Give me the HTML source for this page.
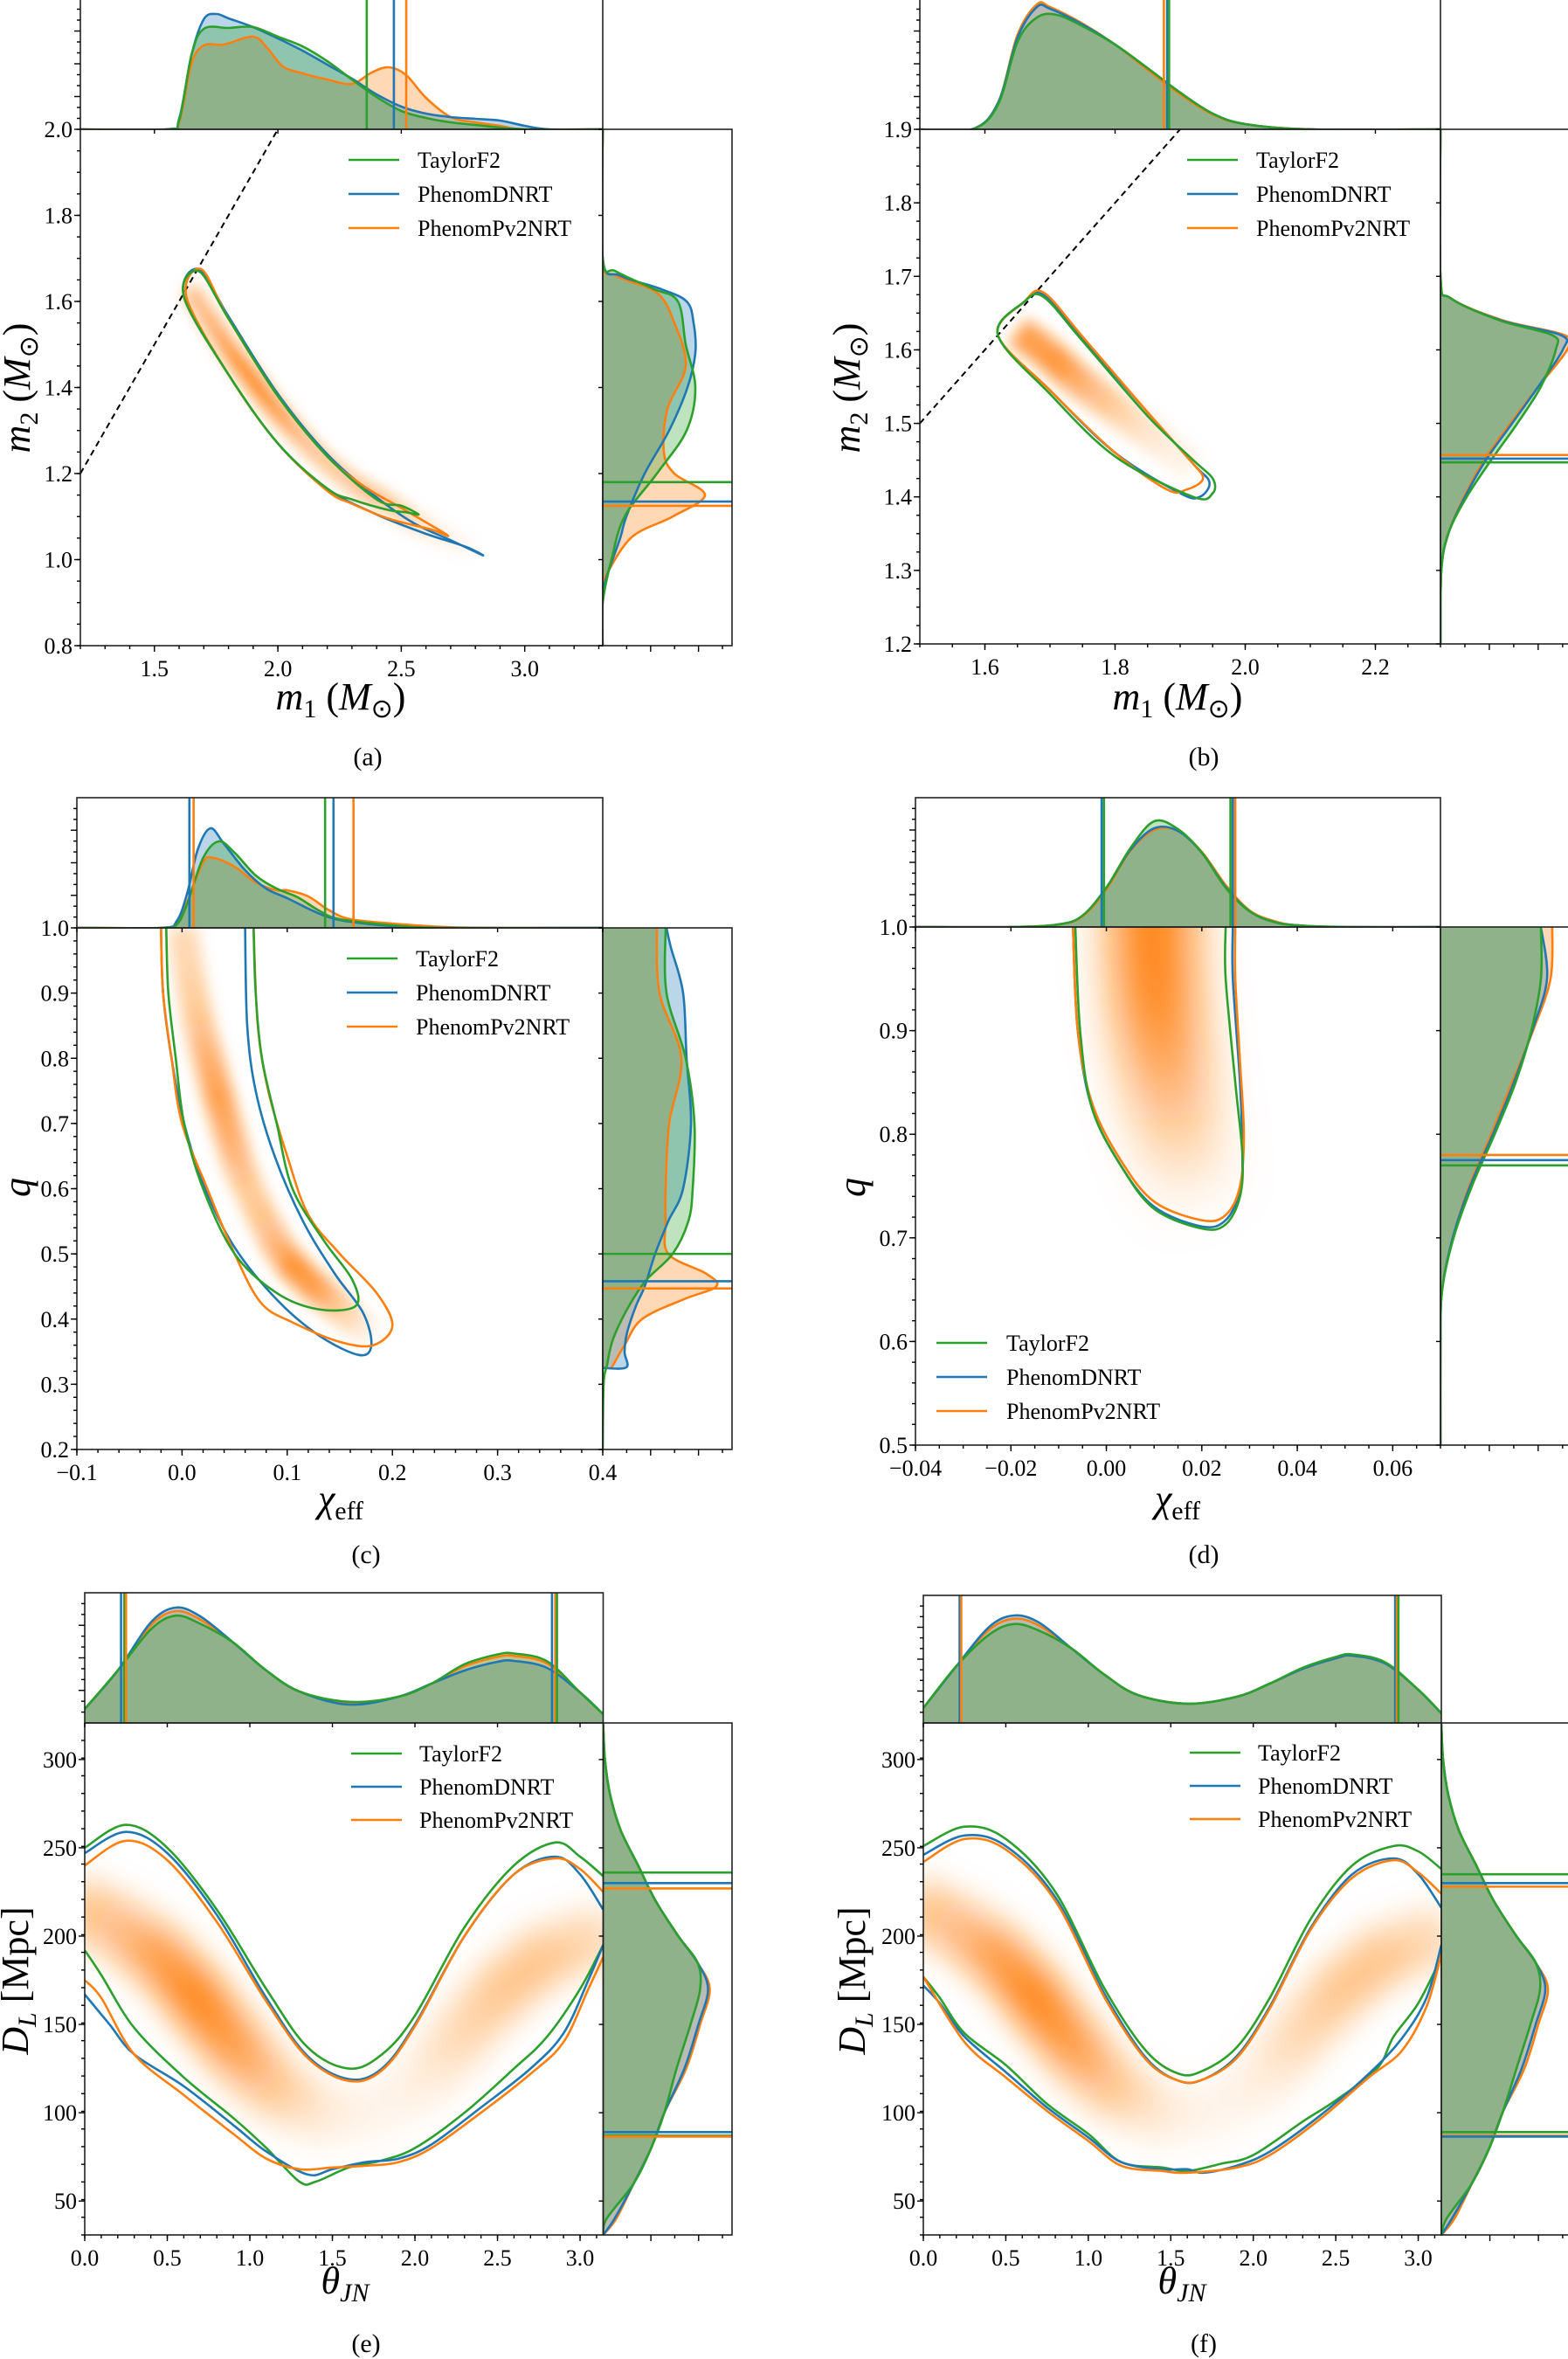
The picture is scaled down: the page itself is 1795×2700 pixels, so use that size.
<!DOCTYPE html>
<html><head><meta charset="utf-8">
<style>
html,body{margin:0;padding:0;background:#fff;}
svg{display:block;}
text{font-family:"Liberation Serif",serif;fill:#000;}
</style></head>
<body>
<svg id="s" xmlns="http://www.w3.org/2000/svg" width="1795" height="2700" viewBox="0 0 1795 2700">
<defs>
<filter id="bl1" filterUnits="userSpaceOnUse" x="0" y="0" width="1795" height="2700"><feGaussianBlur stdDeviation="8"/></filter>
<filter id="bl2" filterUnits="userSpaceOnUse" x="0" y="0" width="1795" height="2700"><feGaussianBlur stdDeviation="18"/></filter>
<filter id="bl3" filterUnits="userSpaceOnUse" x="0" y="0" width="1795" height="2700"><feGaussianBlur stdDeviation="28"/></filter>
</defs>
<g id="root"></g>
<text x="421" y="876" font-size="30" text-anchor="middle">(a)</text>
<text x="1378" y="876" font-size="30" text-anchor="middle">(b)</text>
<text x="419" y="1789" font-size="30" text-anchor="middle">(c)</text>
<text x="1378" y="1789" font-size="30" text-anchor="middle">(d)</text>
<text x="419" y="2692" font-size="30" text-anchor="middle">(e)</text>
<text x="1378" y="2692" font-size="30" text-anchor="middle">(f)</text>
</svg>
<script>
var NS="http://www.w3.org/2000/svg";
var root=document.getElementById('root');
var G='#2ca02c',B='#1f77b4',O='#ff7f0e';
var cid=0;
function el(tag,attrs,parent,txt){var e=document.createElementNS(NS,tag);for(var k in attrs)e.setAttribute(k,attrs[k]);if(txt!==undefined)e.textContent=txt;(parent||root).appendChild(e);return e;}
function smooth(p,closed){
  var n=p.length;if(n<2)return '';
  var d='M'+p[0][0].toFixed(1)+','+p[0][1].toFixed(1);
  var m=closed?n:n-1;
  for(var i=0;i<m;i++){
    var p0,p1=p[i],p2,p3;
    if(closed){p0=p[(i-1+n)%n];p2=p[(i+1)%n];p3=p[(i+2)%n];}
    else{p0=p[i-1]||p[i];p2=p[i+1];p3=p[i+2]||p[i+1];}
    var c1=[p1[0]+(p2[0]-p0[0])/6,p1[1]+(p2[1]-p0[1])/6];
    var c2=[p2[0]-(p3[0]-p1[0])/6,p2[1]-(p3[1]-p1[1])/6];
    d+='C'+c1[0].toFixed(1)+','+c1[1].toFixed(1)+' '+c2[0].toFixed(1)+','+c2[1].toFixed(1)+' '+p2[0].toFixed(1)+','+p2[1].toFixed(1);
  }
  if(closed)d+='Z';
  return d;
}
function fmt(v,dec){var s=Math.abs(v).toFixed(dec);if(v<-1e-9)s='\u2212'+s;return s;}
function clip(x,y,w,h){cid++;var c=el('clipPath',{id:'c'+cid},document.querySelector('defs'));el('rect',{x:x,y:y,width:w,height:h},c);return 'url(#c'+cid+')';}

function panel(P){
  var X=function(x){return P.L+(x-P.xr[0])/(P.xr[1]-P.xr[0])*(P.R-P.L);};
  var Y=function(y){return P.B-(y-P.yr[0])/(P.yr[1]-P.yr[0])*(P.B-P.T);};
  var gm=el('g',{'clip-path':clip(P.L,P.T,P.R-P.L,P.B-P.T)});
  var gh=el('g',{filter:'url(#'+P.blur+')'},gm);
  var s=P.strokes;
  for(var i=0;i<s.pts.length-1;i++){
    var a=s.pts[i],b=s.pts[i+1];
    var o0=s.ops[Math.max(0,i-1)],o1=s.ops[i],o2=s.ops[Math.min(s.ops.length-1,i+1)];
    var N=6;
    for(var j=0;j<N;j++){
      var t0=j/N,t1=(j+1)/N;
      var tm=(t0+t1)/2;
      var op=tm<0.5?(o0+(o1-o0)*(0.5+tm)):(o1+(o2-o1)*(tm-0.5));
      el('line',{x1:X(a[0]+(b[0]-a[0])*t0),y1:Y(a[1]+(b[1]-a[1])*t0),x2:X(a[0]+(b[0]-a[0])*t1),y2:Y(a[1]+(b[1]-a[1])*t1),stroke:O,'stroke-width':s.w,'stroke-linecap':'butt','stroke-opacity':op},gh);
    }
  }
  if(P.dash)el('line',{x1:X(P.dash[0]),y1:Y(P.dash[1]),x2:X(P.dash[2]),y2:Y(P.dash[3]),stroke:'#000','stroke-width':2,'stroke-dasharray':'7,5'},gm);
  P.contours.forEach(function(c){
    var pts=c.p.map(function(q){return [X(q[0]),Y(q[1])];});
    el('path',{d:smooth(pts,c.closed),fill:'none',stroke:c.c,'stroke-width':2.6},gm);
  });
  var gt=el('g',{'clip-path':clip(P.L,P.TM,P.R-P.L,P.T-P.TM)});
  [['o',O],['b',B],['g',G]].forEach(function(k){
    var arr=P.top[k[0]];if(!arr)return;
    var pts=arr.map(function(q){return [X(q[0]),P.T-q[1]];});
    var d=smooth(pts,false);
    el('path',{d:d+'L'+pts[pts.length-1][0]+','+P.T+'L'+pts[0][0]+','+P.T+'Z',fill:k[1],'fill-opacity':0.3,stroke:'none'},gt);
  });
  [['o',O],['b',B],['g',G]].forEach(function(k){
    var arr=P.top[k[0]];if(!arr)return;
    var pts=arr.map(function(q){return [X(q[0]),P.T-q[1]];});
    el('path',{d:smooth(pts,false),fill:'none',stroke:k[1],'stroke-width':2.6},gt);
  });
  P.vl.forEach(function(v){el('line',{x1:X(v[0]),x2:X(v[0]),y1:P.TM,y2:P.T,stroke:v[1],'stroke-width':2.6},gt);});
  var gr=el('g',{'clip-path':clip(P.R,P.T,P.RM-P.R,P.B-P.T)});
  [['o',O],['b',B],['g',G]].forEach(function(k){
    var arr=P.right[k[0]];if(!arr)return;
    var pts=arr.map(function(q){return [P.R+q[1],Y(q[0])];});
    var d=smooth(pts,false);
    el('path',{d:d+'L'+P.R+','+pts[pts.length-1][1]+'L'+P.R+','+pts[0][1]+'Z',fill:k[1],'fill-opacity':0.3,stroke:'none'},gr);
  });
  [['o',O],['b',B],['g',G]].forEach(function(k){
    var arr=P.right[k[0]];if(!arr)return;
    var pts=arr.map(function(q){return [P.R+q[1],Y(q[0])];});
    el('path',{d:smooth(pts,false),fill:'none',stroke:k[1],'stroke-width':2.6},gr);
  });
  P.hl.forEach(function(v){el('line',{x1:P.R,x2:P.RM,y1:Y(v[0]),y2:Y(v[0]),stroke:v[1],'stroke-width':2.6},gr);});
  el('rect',{x:P.L,y:P.T,width:P.R-P.L,height:P.B-P.T,fill:'none',stroke:'#222','stroke-width':1.6});
  el('rect',{x:P.L,y:P.TM,width:P.R-P.L,height:P.T-P.TM,fill:'none',stroke:'#222','stroke-width':1.6});
  el('rect',{x:P.R,y:P.T,width:P.RM-P.R,height:P.B-P.T,fill:'none',stroke:'#222','stroke-width':1.6});
  var tk=el('g',{stroke:'#000','stroke-width':1.4});
  var xm=P.xt;
  for(var v=xm[0];v<=xm[1]+1e-9;v+=xm[2]){var px=X(v);if(px<P.L-0.5||px>P.R+0.5)continue;el('line',{x1:px,x2:px,y1:P.B,y2:P.B+7},tk);el('line',{x1:px,x2:px,y1:P.T,y2:P.T+5},tk);
    el('text',{x:px,y:P.B+35,'font-size':26,'text-anchor':'middle',stroke:'none'},root,fmt(v,xm[3]));}
  for(var v=P.xr[0];v<=P.xr[1]+1e-9;v+=xm[4]){var px=X(v);el('line',{x1:px,x2:px,y1:P.B,y2:P.B+4},tk);}
  var ym=P.yt;
  for(var v=ym[0];v<=ym[1]+1e-9;v+=ym[2]){var py=Y(v);el('line',{x1:P.L-7,x2:P.L,y1:py,y2:py},tk);el('line',{x1:P.R-5,x2:P.R,y1:py,y2:py},tk);
    el('text',{x:P.L-9,y:py+9,'font-size':26,'text-anchor':'end',stroke:'none'},root,fmt(v,ym[3]));}
  for(var v=P.yr[0];v<=P.yr[1]+1e-9;v+=ym[4]){var py=Y(v);el('line',{x1:P.L-4,x2:P.L,y1:py,y2:py},tk);}
  for(var i=1;i<12;i++){var py=P.T-(P.T-P.TM)*i/12;el('line',{x1:P.L-(i%3==0?7:4),x2:P.L,y1:py,y2:py},tk);}
  for(var i=1;i<6;i++){var px=P.R+(P.RM-P.R)*i/5.4;el('line',{x1:px,x2:px,y1:P.B,y2:P.B+(i%2==0?7:4)},tk);}
  var lg=P.leg;var names=['TaylorF2','PhenomDNRT','PhenomPv2NRT'],cols=[G,B,O];
  for(var i=0;i<3;i++){var y=lg[2]+i*lg[3];el('line',{x1:lg[0],x2:lg[0]+58,y1:y,y2:y,stroke:cols[i],'stroke-width':2.6});
    el('text',{x:lg[1],y:y+9,'font-size':26},root,names[i]);}
  P.labels();
}
function lbl(x,y,parts,rot){
  var t=el('text',{x:x,y:y,'font-size':44,'text-anchor':'middle',transform:rot?('rotate(-90 '+x+' '+y+')'):''});
  parts.forEach(function(p){var a={};if(p[1]&&p[1].indexOf('i')>=0)a['font-style']='italic';if(p[1]&&p[1].indexOf('s')>=0){a['font-size']=30;a['dy']=9;}if(p[1]&&p[1].indexOf('u')>=0){a['dy']=-9;}el('tspan',a,t,p[0]);});
}
var m1=[['m','i'],['1','s'],[' (','u'],['M','i'],['\u2299','s'],[')','u']];
var m2=[['m','i'],['2','s'],[' (','u'],['M','i'],['\u2299','s'],[')','u']];
var chi=[['\u03c7','i'],['eff','s']];
var th=[['\u03b8','i'],['JN','is']];
var dl=[['D','i'],['L','is'],[' [Mpc]','u']];

panel({L:92,R:690,TM:-2,T:148,B:739,RM:838,xr:[1.2,3.316],yr:[0.8,2.0],blur:'bl1',
 xt:[1.5,3.0,0.5,1,0.1],yt:[0.8,2.0,0.2,1,0.05],
 strokes:{w:20,pts:[[1.64,1.63],[1.72,1.56],[1.8,1.49],[1.88,1.43],[1.96,1.37],[2.05,1.31],[2.15,1.25],[2.25,1.2],[2.35,1.16],[2.45,1.13],[2.55,1.09],[2.65,1.06],[2.78,1.025]],ops:[.55,.7,.9,.95,.8,.55,.45,.5,.55,.4,.2,.08]},
 dash:[1.2,1.2,2.0,2.0],
 contours:[
  {c:B,closed:true,p:[[1.62,1.61],[1.68,1.675],[1.8,1.565],[2.0,1.385],[2.2,1.245],[2.4,1.145],[2.55,1.085],[2.7,1.045],[2.83,1.01],[2.76,1.03],[2.6,1.06],[2.4,1.105],[2.2,1.165],[2.0,1.27],[1.8,1.43]]},
  {c:O,closed:true,p:[[1.63,1.61],[1.69,1.675],[1.8,1.56],[2.0,1.38],[2.2,1.24],[2.35,1.17],[2.5,1.12],[2.62,1.08],[2.69,1.055],[2.62,1.07],[2.45,1.095],[2.3,1.13],[2.2,1.16],[2.0,1.27],[1.8,1.43]]},
  {c:G,closed:true,p:[[1.62,1.61],[1.68,1.67],[1.8,1.56],[2.0,1.38],[2.2,1.24],[2.4,1.14],[2.5,1.125],[2.57,1.105],[2.52,1.11],[2.45,1.115],[2.3,1.14],[2.2,1.165],[2.0,1.27],[1.8,1.43]]}
 ],
 top:{b:[[1.2,0],[1.55,0],[1.6,12],[1.65,85],[1.7,126],[1.75,132],[1.8,127],[1.9,117],[2.0,104],[2.1,90],[2.2,74],[2.3,58],[2.4,40],[2.5,26],[2.6,18],[2.7,14],[2.8,12],[2.9,10],[3.0,4],[3.1,0],[3.32,0]],
      g:[[1.2,0],[1.55,0],[1.6,10],[1.65,85],[1.7,115],[1.8,116],[1.9,117],[2.0,106],[2.1,95],[2.2,78],[2.3,57],[2.4,37],[2.5,21],[2.6,13],[2.7,8],[2.8,5],[3.0,0],[3.32,0]],
      o:[[1.2,0],[1.55,0],[1.6,8],[1.65,75],[1.7,96],[1.78,97],[1.9,106],[1.96,92],[2.02,72],[2.1,64],[2.2,57],[2.3,52],[2.38,65],[2.45,71],[2.52,62],[2.6,36],[2.7,14],[2.8,8],[2.9,4],[3.0,0],[3.32,0]]},
 vl:[[2.36,G],[2.47,B],[2.52,O]],
 right:{b:[[0.93,0],[0.97,6],[1.05,20],[1.1,27],[1.2,48],[1.3,76],[1.4,97],[1.48,106],[1.55,104],[1.6,96],[1.63,65],[1.66,20],[1.7,0],[2.0,0]],
        g:[[0.8,0],[0.9,0],[1.0,10],[1.1,25],[1.2,62],[1.3,96],[1.4,106],[1.5,95],[1.6,86],[1.63,57],[1.67,15],[1.7,0],[2.0,0]],
        o:[[0.95,0],[1.05,32],[1.1,80],[1.15,117],[1.2,82],[1.25,70],[1.35,74],[1.45,95],[1.55,82],[1.62,62],[1.66,15],[1.7,0],[2.0,0]]},
 hl:[[1.18,G],[1.135,B],[1.125,O]],
 leg:[399,478,183,39],
 labels:function(){lbl(390,812,m1);lbl(34,444,m2,true);}
});
panel({L:1053,R:1649,TM:-2,T:148,B:737,RM:1800,xr:[1.5,2.3],yr:[1.2,1.9],blur:'bl1',
 xt:[1.6,2.2,0.2,1,0.05],yt:[1.2,1.9,0.1,1,0.025],
 strokes:{w:36,pts:[[1.65,1.625],[1.69,1.6],[1.74,1.56],[1.8,1.52],[1.86,1.48],[1.92,1.44]],ops:[.75,.8,.5,.25,.1]},
 dash:[1.5,1.5,1.9,1.9],
 contours:[
  {c:B,closed:true,p:[[1.62,1.62],[1.66,1.665],[1.69,1.675],[1.75,1.615],[1.85,1.515],[1.92,1.445],[1.945,1.42],[1.93,1.40],[1.9,1.405],[1.8,1.46],[1.7,1.545]]},
  {c:O,closed:true,p:[[1.62,1.62],[1.66,1.665],[1.69,1.678],[1.75,1.618],[1.85,1.515],[1.915,1.45],[1.935,1.425],[1.91,1.41],[1.88,1.41],[1.8,1.46],[1.7,1.545]]},
  {c:G,closed:true,p:[[1.62,1.62],[1.66,1.665],[1.69,1.672],[1.75,1.612],[1.85,1.51],[1.92,1.45],[1.95,1.425],[1.95,1.405],[1.92,1.40],[1.8,1.455],[1.7,1.54]]}
 ],
 top:{b:[[1.5,0],[1.58,0],[1.62,30],[1.65,105],[1.68,140],[1.7,138],[1.75,120],[1.8,97],[1.85,70],[1.9,42],[1.95,18],[2.0,6],[2.1,0],[2.3,0]],
      g:[[1.5,0],[1.58,0],[1.62,28],[1.65,100],[1.68,128],[1.71,131],[1.75,118],[1.8,97],[1.85,70],[1.9,42],[1.95,18],[2.0,6],[2.1,0],[2.3,0]],
      o:[[1.5,0],[1.58,0],[1.62,30],[1.65,108],[1.68,143],[1.7,140],[1.75,121],[1.8,97],[1.85,68],[1.9,40],[1.95,17],[2.0,6],[2.1,0],[2.3,0]]},
 vl:[[1.875,O],[1.88,B],[1.883,G]],
 right:{b:[[1.2,0],[1.3,1],[1.35,9],[1.4,28],[1.45,52],[1.5,82],[1.55,112],[1.6,140],[1.62,138],[1.64,70],[1.67,12],[1.7,0],[1.9,0]],
        g:[[1.2,0],[1.3,1],[1.35,9],[1.4,30],[1.45,58],[1.5,88],[1.55,115],[1.6,132],[1.62,128],[1.64,68],[1.67,12],[1.7,0],[1.9,0]],
        o:[[1.2,0],[1.3,1],[1.35,9],[1.4,27],[1.45,50],[1.5,80],[1.55,112],[1.6,145],[1.62,142],[1.64,72],[1.67,12],[1.7,0],[1.9,0]]},
 hl:[[1.457,O],[1.452,B],[1.447,G]],
 leg:[1359,1438,183,39],
 labels:function(){lbl(1348,812,m1);lbl(984,444,m2,true);}
});
panel({L:88,R:690,TM:913,T:1062,B:1659,RM:838,xr:[-0.1,0.4],yr:[0.2,1.0],blur:'bl1',
 xt:[-0.1,0.4,0.1,1,0.02],yt:[0.2,1.0,0.1,1,0.02],
 strokes:{w:34,pts:[[0.0,1.0],[0.008,0.92],[0.018,0.84],[0.03,0.77],[0.04,0.71],[0.055,0.63],[0.075,0.56],[0.095,0.5],[0.115,0.465],[0.14,0.43],[0.165,0.395],[0.18,0.375]],ops:[.3,.4,.6,.75,.6,.4,.5,.85,.75,.35,.12]},
 contours:[
  {c:B,closed:false,p:[[-0.02,1.0],[-0.018,0.9],[-0.01,0.8],[0.002,0.7],[0.022,0.6],[0.05,0.51],[0.09,0.43],[0.13,0.375],[0.168,0.345],[0.18,0.36],[0.172,0.41],[0.145,0.47],[0.115,0.55],[0.088,0.65],[0.07,0.75],[0.062,0.85],[0.06,1.0]]},
  {c:O,closed:false,p:[[-0.02,1.0],[-0.018,0.9],[-0.01,0.8],[0.0,0.7],[0.024,0.6],[0.05,0.5],[0.075,0.425],[0.105,0.395],[0.15,0.365],[0.182,0.36],[0.2,0.39],[0.185,0.44],[0.15,0.5],[0.12,0.56],[0.1,0.65],[0.082,0.75],[0.072,0.85],[0.068,1.0]]},
  {c:G,closed:false,p:[[-0.015,1.0],[-0.013,0.9],[-0.006,0.8],[0.002,0.7],[0.02,0.6],[0.05,0.5],[0.09,0.44],[0.13,0.415],[0.165,0.42],[0.162,0.46],[0.135,0.52],[0.105,0.6],[0.09,0.7],[0.076,0.8],[0.07,0.9],[0.068,1.0]]}
 ],
 top:{b:[[-0.1,0],[-0.02,0],[-0.005,8],[0.005,40],[0.015,90],[0.027,114],[0.04,96],[0.06,66],[0.08,45],[0.1,34],[0.12,22],[0.14,12],[0.16,7],[0.2,2],[0.25,0],[0.4,0]],
      g:[[-0.1,0],[-0.02,0],[-0.005,4],[0.005,28],[0.02,80],[0.035,99],[0.05,86],[0.07,60],[0.09,45],[0.11,35],[0.13,20],[0.15,10],[0.2,3],[0.25,0],[0.4,0]],
      o:[[-0.1,0],[-0.02,0],[-0.005,4],[0.005,30],[0.02,75],[0.03,80],[0.05,70],[0.07,52],[0.09,43],[0.1,43],[0.12,36],[0.14,20],[0.16,10],[0.2,5],[0.25,1],[0.3,0],[0.4,0]]},
 vl:[[0.007,B],[0.011,O],[0.136,G],[0.144,B],[0.163,O]],
 right:{b:[[0.325,0],[0.326,27],[0.35,25],[0.38,28],[0.42,38],[0.45,48],[0.5,60],[0.55,75],[0.6,92],[0.7,101],[0.8,96],[0.9,92],[0.97,78],[1.0,73]],
        g:[[0.2,0],[0.3,1],[0.33,5],[0.37,12],[0.42,30],[0.46,50],[0.5,80],[0.55,98],[0.6,103],[0.7,105],[0.8,95],[0.9,73],[1.0,72]],
        o:[[0.325,10],[0.36,25],[0.4,45],[0.43,92],[0.45,130],[0.47,118],[0.5,75],[0.55,72],[0.6,72],[0.7,76],[0.8,90],[0.9,65],[1.0,62]]},
 hl:[[0.5,G],[0.458,B],[0.447,O]],
 leg:[397,476,1097,39],
 labels:function(){lbl(390,1730,chi);lbl(34,1359,[['q','i']],true);}
});
panel({L:1048,R:1649,TM:913,T:1061,B:1654,RM:1800,xr:[-0.04,0.07],yr:[0.5,1.0],blur:'bl3',
 xt:[-0.04,0.06,0.02,2,0.005],yt:[0.5,1.0,0.1,1,0.02],
 strokes:{w:90,pts:[[0.009,1.1],[0.01,0.95],[0.011,0.9],[0.013,0.85],[0.015,0.8],[0.017,0.76],[0.019,0.73]],ops:[1,.95,.75,.5,.25,.08]},
 contours:[
  {c:B,closed:false,p:[[-0.007,1.0],[-0.006,0.9],[-0.003,0.825],[0.003,0.77],[0.01,0.73],[0.02,0.711],[0.025,0.717],[0.028,0.745],[0.0285,0.78],[0.028,0.85],[0.0265,0.95],[0.0265,1.0]]},
  {c:O,closed:false,p:[[-0.007,1.0],[-0.006,0.9],[-0.003,0.83],[0.003,0.775],[0.01,0.735],[0.02,0.717],[0.025,0.722],[0.028,0.75],[0.0288,0.8],[0.028,0.87],[0.027,0.95],[0.027,1.0]]},
  {c:G,closed:false,p:[[-0.0065,1.0],[-0.0055,0.9],[-0.003,0.825],[0.003,0.77],[0.01,0.728],[0.02,0.709],[0.025,0.713],[0.028,0.74],[0.0285,0.78],[0.027,0.85],[0.025,0.95],[0.025,1.0]]}
 ],
 top:{b:[[-0.04,0],[-0.02,0],[-0.01,3],[-0.005,13],[0.0,45],[0.005,88],[0.01,113],[0.015,110],[0.02,85],[0.025,46],[0.03,18],[0.035,6],[0.04,2],[0.05,0],[0.07,0]],
      g:[[-0.04,0],[-0.02,0],[-0.01,3],[-0.005,13],[0.0,45],[0.005,90],[0.01,121],[0.015,112],[0.02,85],[0.025,45],[0.03,18],[0.035,6],[0.04,2],[0.05,0],[0.07,0]],
      o:[[-0.04,0],[-0.02,0],[-0.01,3],[-0.005,12],[0.0,43],[0.005,87],[0.01,111],[0.015,110],[0.02,86],[0.025,48],[0.03,19],[0.035,7],[0.04,2],[0.05,0],[0.07,0]]},
 vl:[[-0.001,B],[-0.0005,G],[0.026,G],[0.0265,B],[0.027,O]],
 right:{b:[[0.5,0],[0.6,0],[0.65,2],[0.7,14],[0.75,34],[0.8,60],[0.85,84],[0.9,105],[0.95,122],[1.0,115]],
        g:[[0.5,0],[0.6,0],[0.65,2],[0.7,15],[0.75,36],[0.8,62],[0.85,86],[0.9,104],[0.95,115],[1.0,115]],
        o:[[0.5,0],[0.6,0],[0.65,2],[0.7,14],[0.75,33],[0.8,58],[0.85,82],[0.9,106],[0.95,126],[1.0,128]]},
 hl:[[0.78,O],[0.775,B],[0.77,G]],
 leg:[1072,1152,1537,39],
 labels:function(){lbl(1348,1730,chi);lbl(990,1359,[['q','i']],true);}
});
function rmE(dv){return [[30.8,0],[40,10+dv],[60,35],[80,55],[100,70],[125,90+dv],[150,106+dv],[170,117+dv],[185,108],[200,86],[220,60],[240,40],[260,20],[280,8],[300,2],[320,0]];}
function topE(a,b,c){return [[0,16],[0.2,60],[0.4,115*a],[0.55,132*a],[0.7,122*a],[0.9,92],[1.1,60],[1.3,36],[1.6,21*c],[1.9,30],[2.1,45],[2.3,60*b],[2.5,70*b],[2.6,71*b],[2.8,63*b],[3.0,35],[3.14,10]];}
var Ustroke={w:64,pts:[[-0.1,220],[0.3,200],[0.55,180],[0.8,150],[1.05,122],[1.3,103],[1.6,96],[1.9,105],[2.15,128],[2.4,158],[2.65,180],[2.9,195],[3.2,200]],ops:[.45,.75,.95,.75,.4,.15,.07,.12,.3,.45,.45,.3]};
panel({L:97,R:690.5,TM:1823,T:1972,B:2558,RM:838,xr:[0,3.14],yr:[30.8,320.7],blur:'bl2',
 xt:[0,3.0,0.5,1,0.1],yt:[50,300,50,0,10],
 strokes:Ustroke,
 contours:[
  {c:G,p:[[0,250],[0.25,263],[0.5,250],[0.8,215],[1.1,170],[1.35,137],[1.6,125],[1.8,133],[2.0,155],[2.3,205],[2.6,240],[2.85,253],[3.0,245],[3.14,234]]},
  {c:B,p:[[0,247],[0.25,259],[0.5,247],[0.8,212],[1.1,165],[1.35,132],[1.6,119],[1.8,125],[2.0,150],[2.3,200],[2.6,235],[2.85,245],[3.0,235],[3.14,215]]},
  {c:O,p:[[0,240],[0.25,254],[0.5,243],[0.8,208],[1.1,163],[1.35,131],[1.6,118],[1.8,124],[2.0,149],[2.3,200],[2.6,235],[2.85,244],[3.0,238],[3.14,225]]},
  {c:G,p:[[0,192],[0.1,178],[0.3,148],[0.6,120],[0.9,97],[1.1,80],[1.3,61],[1.4,61],[1.6,69],[1.8,73],[2.0,80],[2.3,100],[2.6,125],[2.8,143],[3.0,170],[3.14,195]]},
  {c:B,p:[[0,167],[0.15,150],[0.3,133],[0.6,115],[0.9,93],[1.1,78],[1.35,65],[1.5,68],[1.7,72],[1.9,74],[2.1,82],[2.4,103],[2.7,125],[2.9,145],[3.05,175],[3.14,195]]},
  {c:O,p:[[0,175],[0.1,165],[0.3,133],[0.6,110],[0.9,88],[1.1,74],[1.3,68],[1.5,69],[1.7,70],[1.9,72],[2.1,80],[2.4,100],[2.7,122],[2.9,140],[3.05,170],[3.14,188]]}
 ],
 top:{b:topE(1,1,1),g:topE(0.93,1.12,1.15),o:topE(0.97,1.08,1.05)},
 vl:[[0.22,B],[0.24,G],[0.25,O],[2.83,B],[2.85,O],[2.86,G]],
 right:{b:rmE(3),g:rmE(-6),o:rmE(5)},
 hl:[[236,G],[230,B],[227,O],[89,B],[87,G],[86.5,O]],
 leg:[402,480,2007,38],
 labels:function(){lbl(395,2625,th);lbl(32,2267,dl,true);}
});
function topF(a,b){return [[0,17],[0.2,65],[0.4,110*a],[0.55,123*a],[0.7,115*a],[0.9,85],[1.1,55],[1.3,32],[1.6,22],[1.9,30],[2.1,45],[2.3,62*b],[2.5,74*b],[2.6,77*b],[2.8,68*b],[3.0,38],[3.14,11]];}
panel({L:1057,R:1650,TM:1826,T:1972,B:2558,RM:1800,xr:[0,3.14],yr:[30.8,320.7],blur:'bl2',
 xt:[0,3.0,0.5,1,0.1],yt:[50,300,50,0,10],
 strokes:Ustroke,
 contours:[
  {c:G,p:[[0,251],[0.25,262],[0.5,255],[0.8,225],[1.1,170],[1.35,135],[1.55,122],[1.7,124],[1.9,137],[2.1,165],[2.35,210],[2.6,240],[2.85,251],[3.0,248],[3.14,238]]},
  {c:B,p:[[0,246],[0.25,257],[0.5,251],[0.8,222],[1.1,167],[1.35,131],[1.55,118],[1.7,119],[1.9,132],[2.1,160],[2.35,205],[2.6,235],[2.85,244],[3.0,235],[3.14,216]]},
  {c:O,p:[[0,242],[0.25,255],[0.5,249],[0.8,220],[1.1,165],[1.35,130],[1.55,118],[1.7,119],[1.9,131],[2.1,159],[2.35,204],[2.6,233],[2.85,243],[3.0,236],[3.14,224]]},
  {c:G,p:[[0,177],[0.1,165],[0.25,145],[0.5,127],[0.75,105],[1.0,88],[1.2,72],[1.45,69],[1.6,67],[1.8,71],[2.0,76],[2.3,95],[2.5,107],[2.75,125],[2.85,143],[3.0,162],[3.14,188]]},
  {c:B,p:[[0,172],[0.1,162],[0.25,143],[0.5,123],[0.75,103],[1.0,86],[1.2,72],[1.45,68],[1.6,68],[1.7,66],[1.9,70],[2.1,78],[2.4,98],[2.7,122],[2.9,142],[3.05,165],[3.14,195]]},
  {c:O,p:[[0,177],[0.25,140],[0.5,120],[0.75,101],[1.0,84],[1.2,70],[1.45,67],[1.6,66],[1.9,69],[2.1,76],[2.4,96],[2.7,120],[2.9,135],[3.05,160],[3.14,190]]}
 ],
 top:{b:topF(1,1),g:topF(0.92,1.02),o:topF(0.97,1.0)},
 vl:[[0.22,B],[0.23,O],[2.86,B],[2.87,O],[2.88,G]],
 right:{b:rmE(2),g:rmE(-4),o:rmE(5)},
 hl:[[235,G],[230,B],[228,O],[89,G],[87,O],[86.5,B]],
 leg:[1362,1440,2006,38],
 labels:function(){lbl(1353,2625,th);lbl(990,2267,dl,true);}
});
</script>
</body></html>
